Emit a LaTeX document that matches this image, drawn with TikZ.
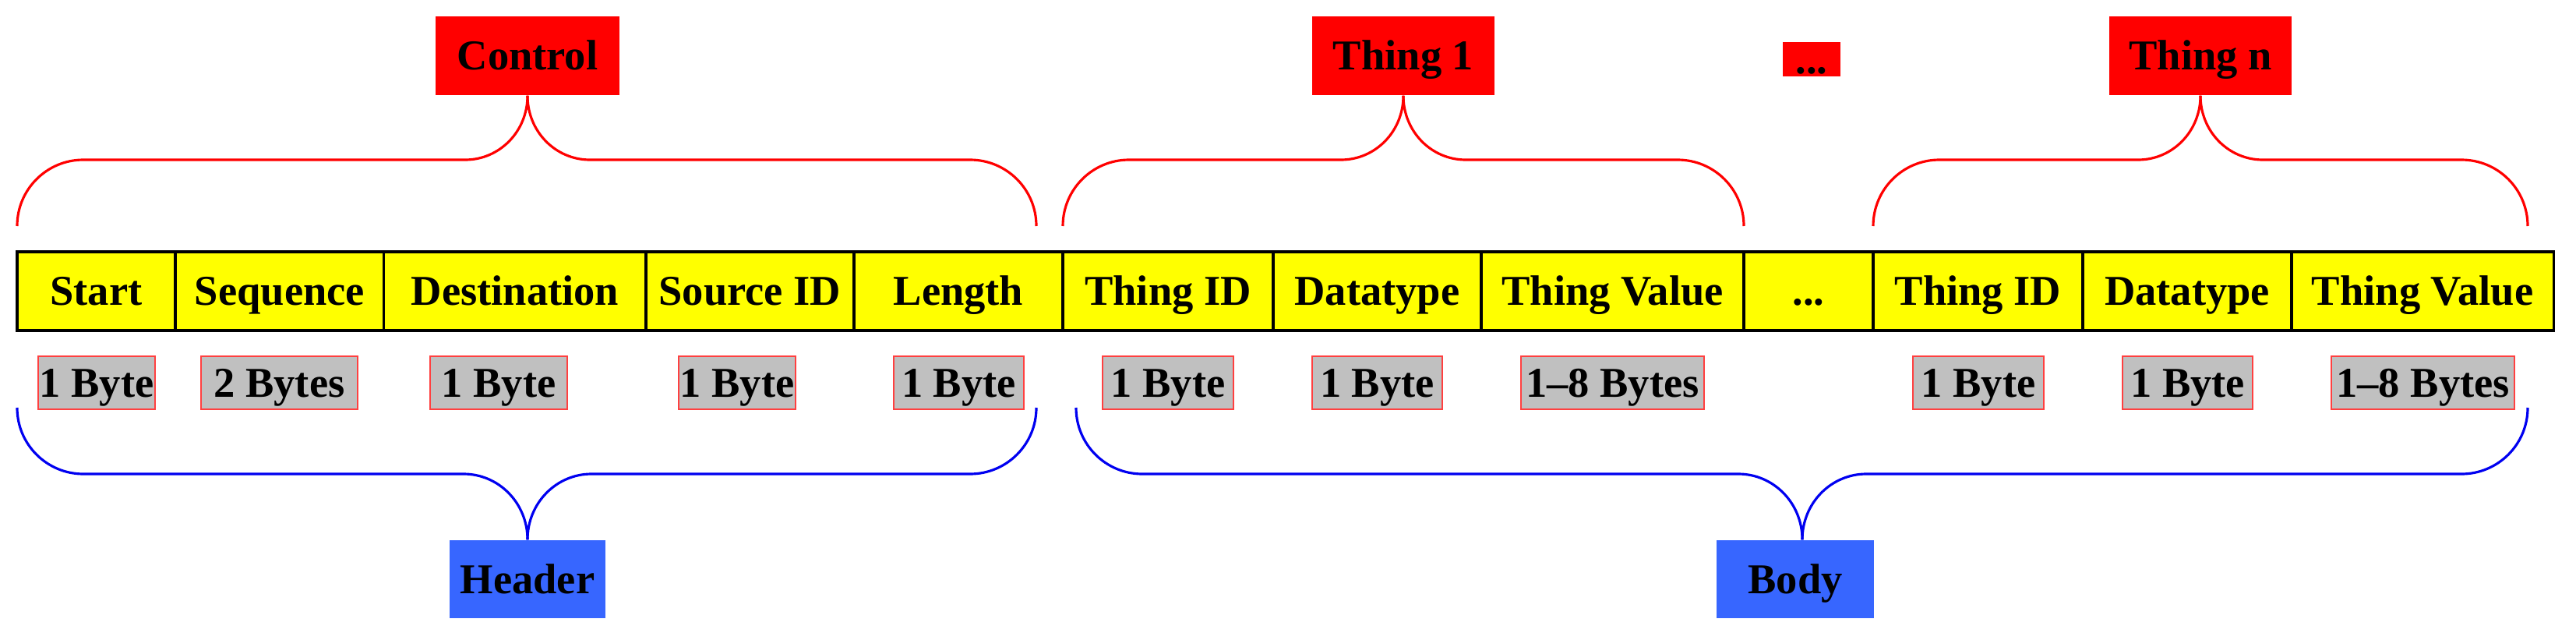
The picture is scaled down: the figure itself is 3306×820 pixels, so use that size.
\documentclass[tikz,border=0pt]{standalone}
\usepackage{fontspec}
\setmainfont{Liberation Serif}
\usetikzlibrary{calc}
\definecolor{cyel}{RGB}{255,255,0}
\definecolor{cred}{RGB}{255,0,0}
\definecolor{cblue}{RGB}{55,102,255}
\definecolor{cgray}{RGB}{192,192,192}
\definecolor{bbrace}{RGB}{0,0,240}
\newcommand{\fnt}{\fontsize{15.5}{18}\selectfont\bfseries}
\newcommand{\topbrace}[3]{%
  \draw[rbr] (#1) .. controls ($(#1)+(0,47)$) and ($(#1)+(38,85)$) .. ($(#1)+(85,85)$)
    -- ($(#3.south |- #1)+(-80,85)$) .. controls ($(#3.south |- #1)+(-36,85)$) and ($(#3.south)+(0,-46)$) .. (#3.south);
  \draw[rbr] (#2) .. controls ($(#2)+(0,47)$) and ($(#2)+(-38,85)$) .. ($(#2)+(-85,85)$)
    -- ($(#3.south |- #2)+(80,85)$) .. controls ($(#3.south |- #2)+(36,85)$) and ($(#3.south)+(0,-46)$) .. (#3.south);
}
\newcommand{\botbrace}[3]{%
  \draw[bbr] (#1) .. controls ($(#1)+(0,-47)$) and ($(#1)+(38,-85)$) .. ($(#1)+(85,-85)$)
    -- ($(#3 |- #1)+(-82,-85)$) .. controls ($(#3 |- #1)+(-37,-85)$) and ($(#3)+(0,47)$) .. (#3);
  \draw[bbr] (#2) .. controls ($(#2)+(0,-47)$) and ($(#2)+(-38,-85)$) .. ($(#2)+(-85,-85)$)
    -- ($(#3 |- #2)+(82,-85)$) .. controls ($(#3 |- #2)+(37,-85)$) and ($(#3)+(0,47)$) .. (#3);
}
\begin{document}
\begin{tikzpicture}[x=0.01cm,y=0.01cm,
  cell/.style={draw=black,line width=0.9pt,fill=cyel,minimum height=1.01cm,inner sep=0pt,text height=0.36cm,text depth=0pt,font=\fnt},
  sz/.style={fill=cgray,draw=red!75,line width=0.4pt,minimum height=0.68cm,inner sep=0pt,text height=0.37cm,text depth=0pt,font=\fnt},
  rbox/.style={fill=cred,inner sep=0pt,text height=0.36cm,text depth=0pt,font=\fnt},
  bbox/.style={fill=cblue,inner sep=0pt,minimum width=2.0cm,minimum height=1.0cm,text height=0.36cm,text depth=0pt,font=\fnt},
  rbr/.style={draw=cred,line width=0.9pt},
  bbr/.style={draw=bbrace,line width=0.9pt}]
\useasboundingbox (0,0) rectangle (3306,820);
% field bar
\node[cell,minimum width=2.03cm] (c1) at (123.5,446.5) {Start};
\node[cell,minimum width=2.68cm] (c2) at (359,446.5) {Sequence};
\node[cell,minimum width=3.36cm] (c3) at (661,446.5) {Destination};
\node[cell,minimum width=2.67cm] (c4) at (962.5,446.5) {Source ID};
\node[cell,minimum width=2.68cm] (c5) at (1230,446.5) {Length};
\node[cell,minimum width=2.70cm] (c6) at (1499,446.5) {Thing ID};
\node[cell,minimum width=2.67cm] (c7) at (1767.5,446.5) {Datatype};
\node[cell,minimum width=3.37cm] (c8) at (2069.5,446.5) {Thing Value};
\node[cell,minimum width=1.66cm] (c9) at (2321,446.5) {...};
\node[cell,minimum width=2.69cm] (c10) at (2538.5,446.5) {Thing ID};
\node[cell,minimum width=2.68cm] (c11) at (2807,446.5) {Datatype};
\node[cell,minimum width=3.36cm] (c12) at (3109,446.5) {Thing Value};
% sizes
\node[sz,minimum width=1.50cm] (b1) at (124,329) {1 Byte};
\node[sz,minimum width=2.01cm] (b2) at (358.5,329) {2 Bytes};
\node[sz,minimum width=1.76cm] (b3) at (640,329) {1 Byte};
\node[sz,minimum width=1.50cm] (b4) at (946,329) {1 Byte};
\node[sz,minimum width=1.67cm] (b5) at (1230.5,329) {1 Byte};
\node[sz,minimum width=1.68cm] (b6) at (1499,329) {1 Byte};
\node[sz,minimum width=1.67cm] (b7) at (1767.5,329) {1 Byte};
\node[sz,minimum width=2.35cm] (b8) at (2069.5,329) {1--8 Bytes};
\node[sz,minimum width=1.68cm] (b9) at (2539,329) {1 Byte};
\node[sz,minimum width=1.67cm] (b10) at (2807.5,329) {1 Byte};
\node[sz,minimum width=2.35cm] (b11) at (3109.5,329) {1--8 Bytes};
% top labels
\node[rbox,minimum width=2.35cm,minimum height=1.01cm] (control) at (677,748.5) {Control};
\node[rbox,minimum width=2.34cm,minimum height=1.01cm] (thing1) at (1801,748.5) {Thing 1};
\node[rbox,minimum width=0.74cm,minimum height=0.44cm] (dots) at (2325,744) {...};
\node[rbox,minimum width=2.34cm,minimum height=1.01cm] (thingn) at (2824,748.5) {Thing n};
% bottom labels
\node[bbox] (header) at (677,77) {Header};
\node[bbox,minimum width=2.02cm] (body) at (2304,77) {Body};
% brace end points
\coordinate (r1) at (22,530);
\coordinate (r2) at (1330,530);
\coordinate (r3) at (1364,530);
\coordinate (r4) at (2238,530);
\coordinate (r5) at (2404,530);
\coordinate (r6) at (3244,530);
\coordinate (u1) at (22,297);
\coordinate (u2) at (1330,297);
\coordinate (u3) at (1381,297);
\coordinate (u4) at (3244,297);
\coordinate (ht) at (header.north);
\coordinate (bt) at ([xshift=0.09cm]body.north);
% braces
\topbrace{r1}{r2}{control}
\topbrace{r3}{r4}{thing1}
\topbrace{r5}{r6}{thingn}
\botbrace{u1}{u2}{ht}
\botbrace{u3}{u4}{bt}
\end{tikzpicture}
\end{document}
